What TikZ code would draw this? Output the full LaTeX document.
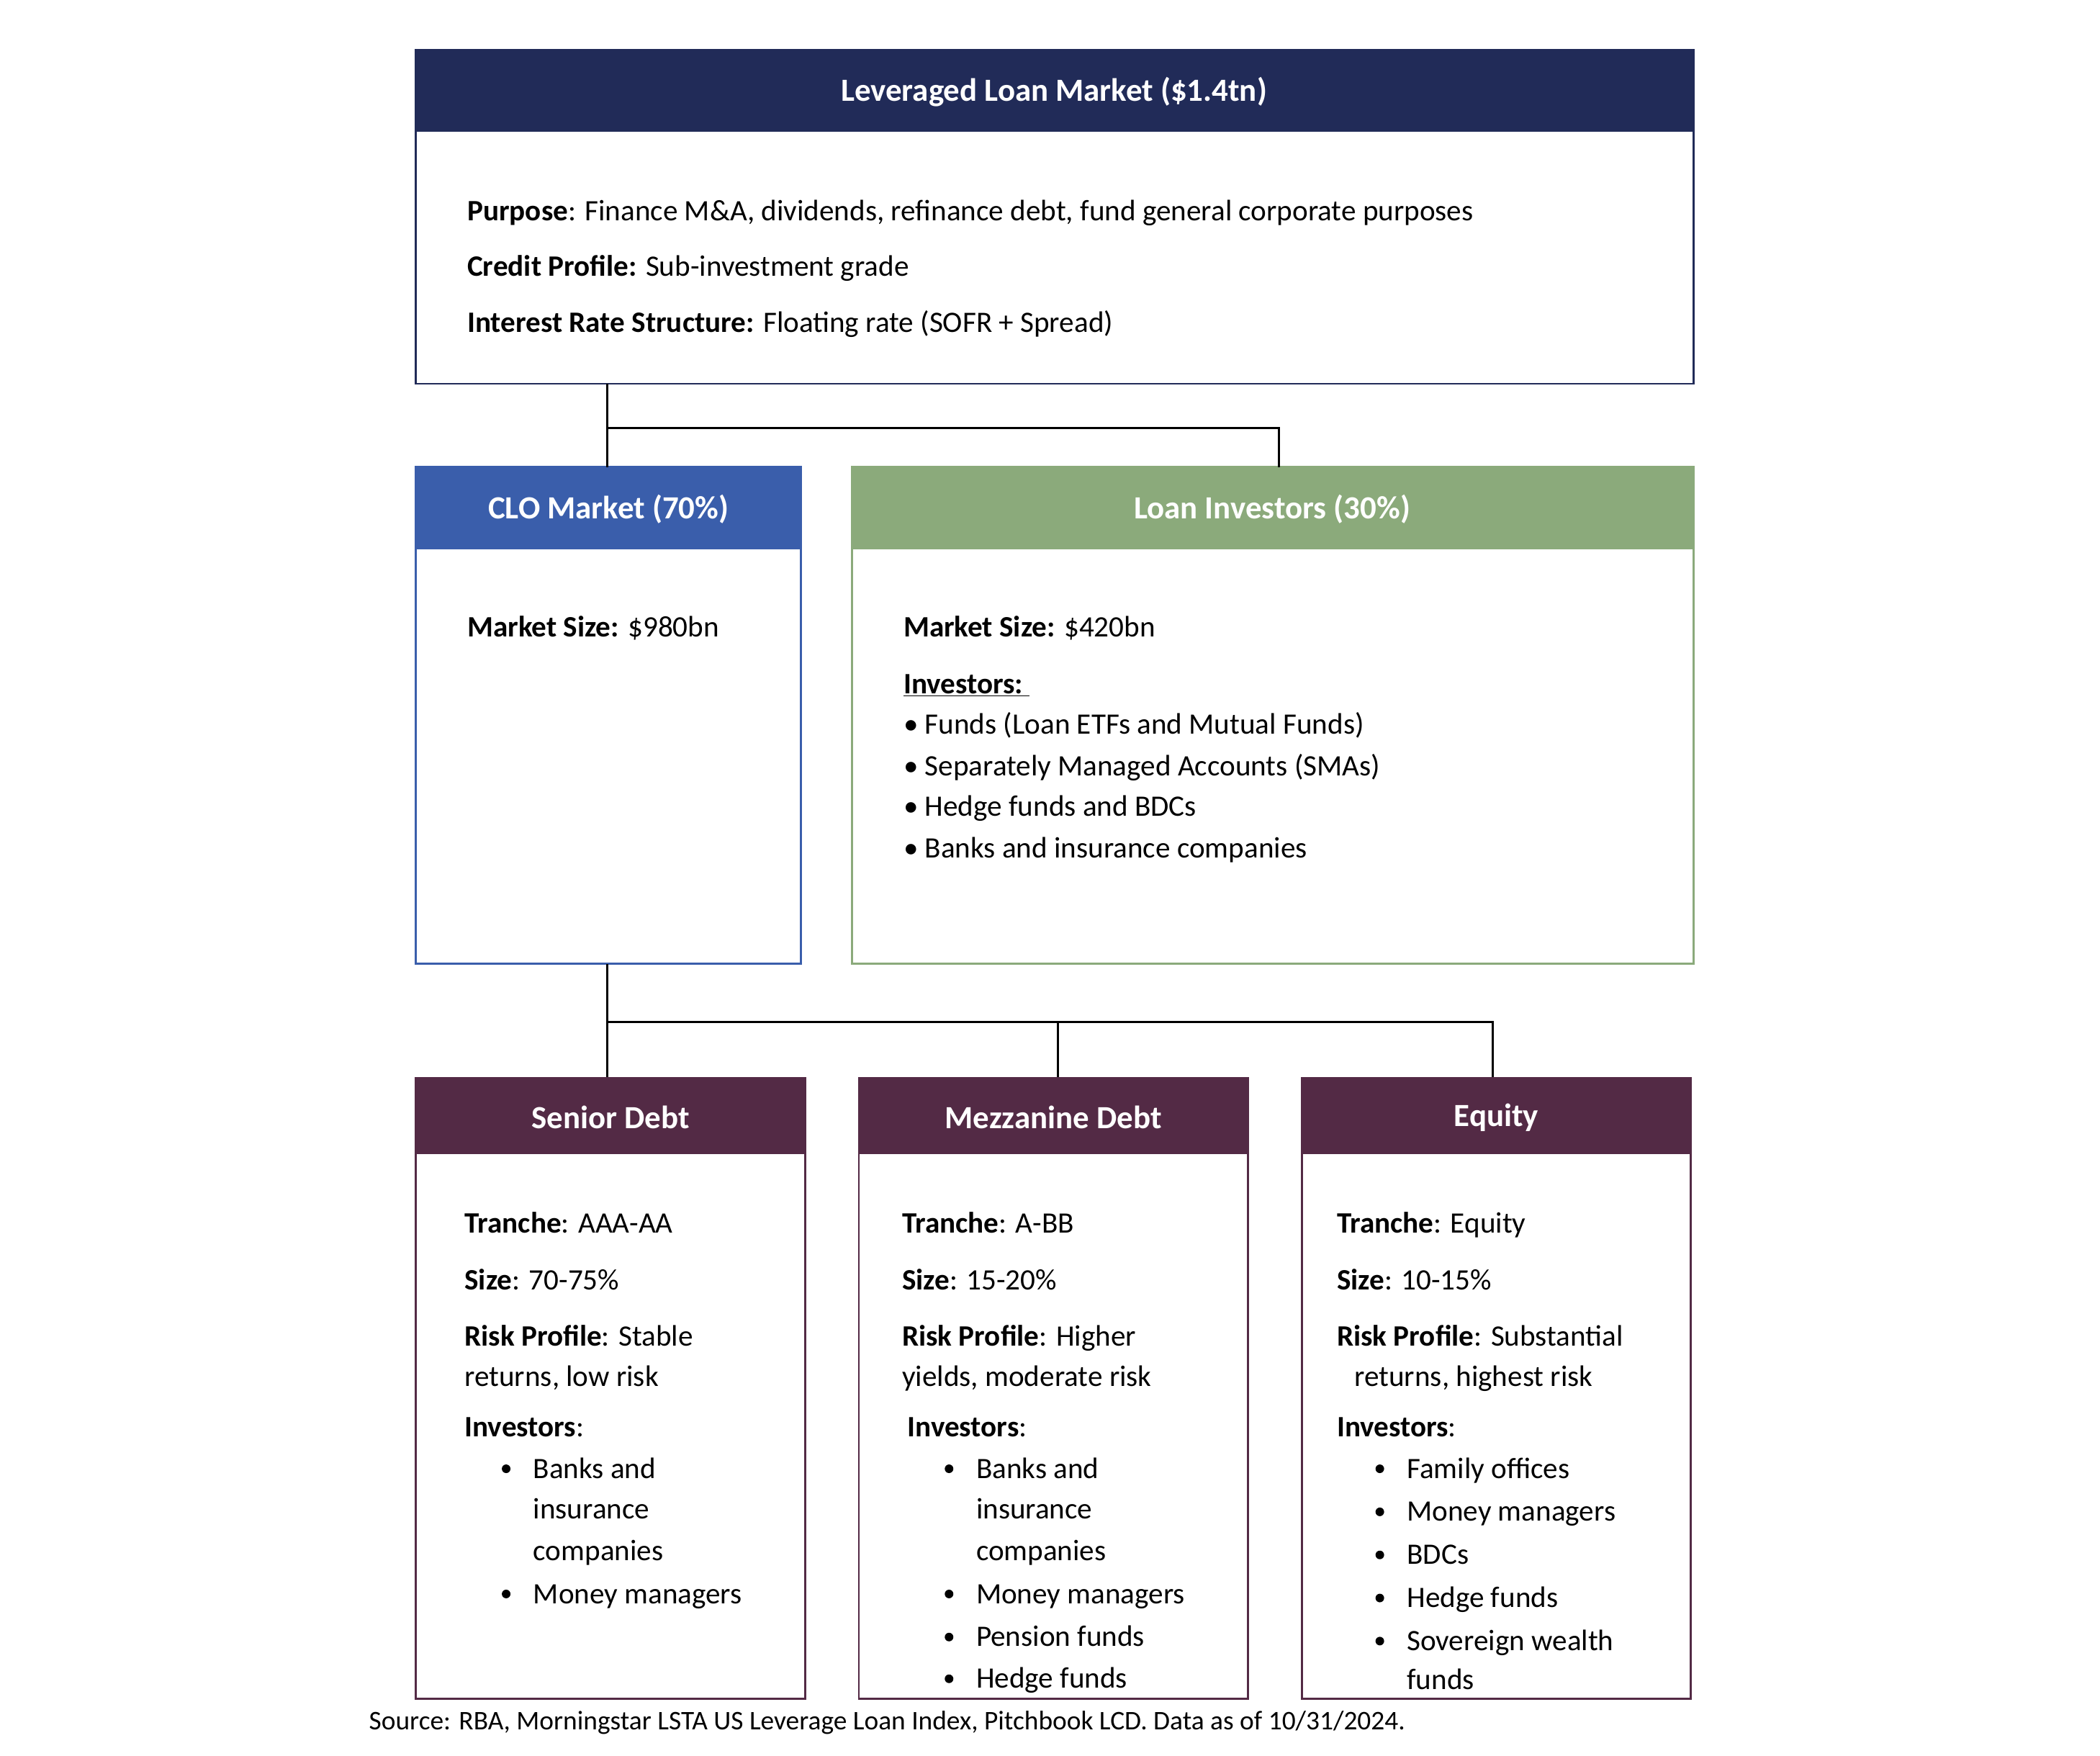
\documentclass[tikz,border=0pt]{standalone}
\usepackage{fontspec}
\setmainfont{Carlito}
\definecolor{navy}{HTML}{212B58}
\definecolor{clo}{HTML}{3A5EAB}
\definecolor{grn}{HTML}{8BAA7B}
\definecolor{plum}{HTML}{532A45}
\begin{document}
\begin{tikzpicture}[x=1pt,y=-1pt,
  txt/.style={anchor=base west,inner sep=0pt,font=\fontsize{22}{26}\selectfont},
  hd/.style={font=\fontsize{24}{28}\selectfont\bfseries,text=white},
  conn/.style={line width=1.6pt,black}]
\useasboundingbox (0,0) rectangle (1560,1304);
% top box
\fill[navy] (309,37) rectangle (1258,98);
\draw[navy,line width=1.5pt] (309,37) rectangle (1258,285);
\node[hd] (toph) at (783,68) {Leveraged Loan Market (\$1.4tn)};
\node[txt] (p1) at (347,164) {\textbf{Purpose}: Finance M\&A, dividends, refinance debt, fund general corporate purposes};
\node[txt] (p2) at (347,205) {\textbf{Credit Profile:} Sub-investment grade};
\node[txt] (p3) at (347,247) {\textbf{Interest Rate Structure:} Floating rate (SOFR + Spread)};
% CLO box
\fill[clo] (309,347) rectangle (595,408);
\draw[clo,line width=1.5pt] (309,347) rectangle (595,716);
\node[hd] (cloh) at (452,378) {CLO Market (70\%)};
\node[txt] (c1) at (347,473) {\textbf{Market Size:} \$980bn};
% Loan investors
\fill[grn] (633,347) rectangle (1258,408);
\draw[grn,line width=1.5pt] (633,347) rectangle (1258,716);
\node[hd] (lih) at (945,378) {Loan Investors (30\%)};
\node[txt] (l1) at (671,473) {\textbf{Market Size:} \$420bn};
\node[txt] (l2) at (671,515) {\textbf{\underline{Investors:\ }}};
\node[txt] (l3) at (671,545) {• Funds (Loan ETFs and Mutual Funds)};
\node[txt] (l4) at (671,576) {• Separately Managed Accounts (SMAs)};
\node[txt] (l5) at (671,606) {• Hedge funds and BDCs};
\node[txt] (l6) at (671,637) {• Banks and insurance companies};
% connectors
\coordinate (a1) at (451,285); \coordinate (a2) at (451,318); \coordinate (a3) at (950,318);
\coordinate (a4) at (950,347); \coordinate (a5) at (451,347);
\draw[conn] (a1) -- (a5); \draw[conn] (a2) -- (a3) -- (a4);
\coordinate (b1) at (451,716); \coordinate (b2) at (451,759); \coordinate (b3) at (1109,759);
\coordinate (b4) at (451,801); \coordinate (b5) at (786,759); \coordinate (b6) at (786,801); \coordinate (b7) at (1109,801);
\draw[conn] (b1) -- (b4); \draw[conn] (b2) -- (b3) -- (b7); \draw[conn] (b5) -- (b6);
% bottom boxes
\foreach \xa/\xb/\nm/\t in {309/598/s/Senior Debt,638/927/m/Mezzanine Debt,967/1256/e/Equity}{
  \fill[plum] (\xa,801) rectangle (\xb,857);
  \draw[plum,line width=1.5pt] (\xa,801) rectangle (\xb,1262);
  \node[hd] (\nm h) at ({(\xa+\xb)/2},830) {\t};
}
% senior
\node[txt] (s1) at (345,916) {\textbf{Tranche}: AAA-AA};
\node[txt] (s2) at (345,958) {\textbf{Size}: 70-75\%};
\node[txt] (s3) at (345,1000) {\textbf{Risk Profile}: Stable};
\node[txt] (s4) at (345,1030) {returns, low risk};
\node[txt] (s5) at (345,1067) {\textbf{Investors}:};
\foreach \y/\t/\b [count=\i] in {1098/Banks and/1,1128/insurance/0,1159/companies/0,1191/Money managers/1}{
  \node[txt] (sb\i) at (396,\y) {\t};
  \ifnum\b=1 \fill (376,\y-7) circle (3.2); \fi
}
% mezz
\node[txt] (m1) at (670,916) {\textbf{Tranche}: A-BB};
\node[txt] (m2) at (670,958) {\textbf{Size}: 15-20\%};
\node[txt] (m3) at (670,1000) {\textbf{Risk Profile}: Higher};
\node[txt] (m4) at (670,1030) {yields, moderate risk};
\node[txt] (m5) at (674,1067) {\textbf{Investors}:};
\foreach \y/\t/\b [count=\i] in {1098/Banks and/1,1128/insurance/0,1159/companies/0,1191/Money managers/1,1223/Pension funds/1,1254/Hedge funds/1}{
  \node[txt] (mb\i) at (725,\y) {\t};
  \ifnum\b=1 \fill (705,\y-7) circle (3.2); \fi
}
% equity
\node[txt] (e1) at (993,916) {\textbf{Tranche}: Equity};
\node[txt] (e2) at (993,958) {\textbf{Size}: 10-15\%};
\node[txt] (e3) at (993,1000) {\textbf{Risk Profile}: Substantial};
\node[txt] (e4) at (1006,1030) {returns, highest risk};
\node[txt] (e5) at (993,1067) {\textbf{Investors}:};
\foreach \y/\t/\b [count=\i] in {1098/Family offices/1,1130/Money managers/1,1162/BDCs/1,1194/Hedge funds/1,1226/Sovereign wealth/1,1255/funds/0}{
  \node[txt] (eb\i) at (1045,\y) {\t};
  \ifnum\b=1 \fill (1025,\y-7) circle (3.2); \fi
}
\node[txt,font=\fontsize{20}{24}\selectfont] (src) at (274,1285) {Source: RBA, Morningstar LSTA US Leverage Loan Index, Pitchbook LCD. Data as of 10/31/2024.};
\end{tikzpicture}
\end{document}
